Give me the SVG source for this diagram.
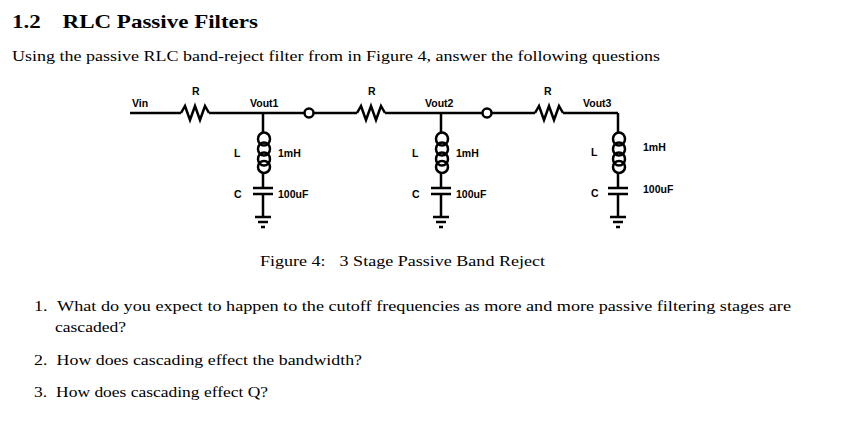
<svg xmlns="http://www.w3.org/2000/svg" width="852" height="435" viewBox="0 0 852 435">
<style>
.t{font-family:"Liberation Serif",serif;font-size:15.5px;fill:#000}
.h{font-family:"Liberation Serif",serif;font-size:19px;font-weight:bold;fill:#000}
.c{font-family:"Liberation Sans",sans-serif;font-size:10.5px;font-weight:bold;fill:#000}
.w{stroke:#000;stroke-width:2.5;fill:none}
</style>
<rect width="852" height="435" fill="#fff"/>
<text class="h" x="12" y="28" textLength="246" lengthAdjust="spacingAndGlyphs">1.2<tspan dx="18">RLC Passive Filters</tspan></text>
<text class="t" x="12" y="61" textLength="648" lengthAdjust="spacingAndGlyphs">Using the passive RLC band-reject filter from in Figure 4, answer the following questions</text>
<defs>
<g id="stage">
<path class="w" d="M0,0 V20 M0,60 V75 M-10,75 H10 M-10,81 H10 M0,81 V104 M-8,104 H8 M-5,109 H5 M-2,114 H2"/>
<ellipse class="w" cx="1" cy="26" rx="6" ry="6.5"/>
<ellipse class="w" cx="1" cy="36" rx="6" ry="6.5"/>
<ellipse class="w" cx="1" cy="46" rx="6" ry="6.5"/>
<ellipse class="w" cx="1" cy="54" rx="6" ry="6"/>
</g>
<path id="res" class="w" d="M0,0 l4,-7 l5,14 l5,-14 l5,14 l5,-14 l4,7"/>
</defs>
<g id="connectors">
<path class="w" d="M130,113 H181 M209,113 H304 M314,113 H357 M385,113 H482 M492,113 H535 M563,113 H618"/>
<circle cx="309" cy="113" r="4.5" fill="#fff" stroke="#000" stroke-width="2.5"/>
<circle cx="487" cy="113" r="4.5" fill="#fff" stroke="#000" stroke-width="2.5"/>
</g>
<g id="vin"><text class="c" x="132" y="107">Vin</text></g>
<g id="r1"><use href="#res" x="181" y="113"/><text class="c" x="192" y="95">R</text></g>
<g id="r2"><use href="#res" x="357" y="113"/><text class="c" x="368" y="95">R</text></g>
<g id="r3"><use href="#res" x="535" y="113"/><text class="c" x="544" y="95">R</text></g>
<g id="stage1"><use href="#stage" x="263" y="113"/>
<text class="c" x="250" y="107">Vout1</text>
<text class="c" x="234" y="157">L</text><text class="c" x="278" y="157">1mH</text>
<text class="c" x="234" y="198">C</text><text class="c" x="278" y="198">100uF</text></g>
<g id="stage2"><use href="#stage" x="441" y="113"/>
<text class="c" x="425" y="107">Vout2</text>
<text class="c" x="412" y="157">L</text><text class="c" x="456" y="157">1mH</text>
<text class="c" x="412" y="198">C</text><text class="c" x="456" y="198">100uF</text></g>
<g id="stage3"><use href="#stage" x="618" y="113"/>
<text class="c" x="583" y="107">Vout3</text>
<text class="c" x="591" y="156">L</text><text class="c" x="643" y="151">1mH</text>
<text class="c" x="591" y="197">C</text><text class="c" x="643" y="193">100uF</text></g>
<text class="t" x="260" y="266" textLength="285" lengthAdjust="spacingAndGlyphs">Figure 4:<tspan dx="12">3 Stage Passive Band Reject</tspan></text>
<text class="t" x="34" y="311" textLength="757" lengthAdjust="spacingAndGlyphs">1.<tspan dx="8">What do you expect to happen to the cutoff frequencies as more and more passive filtering stages are</tspan></text>
<text class="t" x="55" y="332" textLength="71" lengthAdjust="spacingAndGlyphs">cascaded?</text>
<text class="t" x="34" y="365" textLength="328" lengthAdjust="spacingAndGlyphs">2.<tspan dx="8">How does cascading effect the bandwidth?</tspan></text>
<text class="t" x="34" y="397" textLength="234" lengthAdjust="spacingAndGlyphs">3.<tspan dx="8">How does cascading effect Q?</tspan></text>
</svg>
